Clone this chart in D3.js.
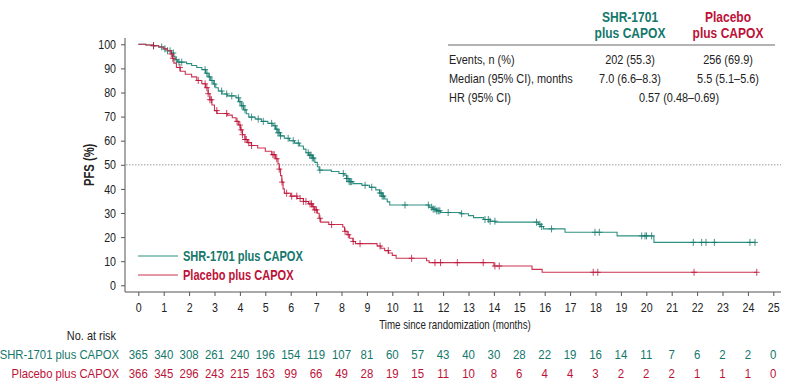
<!DOCTYPE html>
<html>
<head>
<meta charset="utf-8">
<script src="https://cdn.jsdelivr.net/npm/d3@7"></script>
<style>
  body { margin: 0; background: #fff; }
  svg text { font-family: "Liberation Sans", Arial, sans-serif; }
</style>
</head>
<body>
<svg id="chart"></svg>
<script>
// KM step points [months, PFS %]
const shrSteps = [[0,100],[0.3,99.7],[0.6,99.4],[0.8,98.9],[1.0,98.1],[1.15,97.3],[1.3,96.4],[1.4,95.0],[1.45,93.6],[1.55,92.6],[1.9,92.0],[2.1,91.2],[2.3,90.4],[2.5,89.5],[2.65,88.0],[2.75,86.5],[2.85,85.0],[2.95,83.5],[3.05,82.0],[3.15,80.6],[3.3,79.4],[3.5,78.6],[3.85,77.8],[3.95,76.2],[4.05,74.5],[4.15,72.8],[4.25,71.2],[4.35,69.8],[4.6,69.0],[4.85,68.0],[5.1,67.2],[5.3,66.2],[5.4,64.8],[5.5,63.3],[5.6,62.0],[5.75,61.0],[5.95,60.0],[6.15,59.0],[6.35,57.8],[6.5,56.5],[6.6,55.0],[6.7,54.0],[6.85,52.8],[6.95,51.0],[7.05,49.2],[7.12,47.8],[7.6,47.2],[7.9,46.4],[8.1,45.7],[8.2,44.3],[8.3,43.0],[8.45,42.2],[8.8,41.5],[9.1,40.7],[9.35,39.6],[9.5,38.3],[9.6,37.0],[9.7,35.8],[9.8,34.6],[9.9,33.3],[11.45,32.4],[11.6,31.6],[11.75,30.9],[11.9,30.2],[12.7,29.7],[13.0,28.9],[13.2,28.1],[13.6,27.3],[13.85,26.6],[14.05,26.2],[15.75,25.3],[15.85,24.4],[15.95,23.4],[16.8,22.0],[18.85,20.5],[20.3,17.8],[24.3,17.8]];
const placeboSteps = [[0,100],[0.3,99.7],[0.6,99.4],[0.8,98.9],[1.0,98.1],[1.15,97.3],[1.3,96.0],[1.35,94.2],[1.4,92.2],[1.5,90.4],[1.65,88.8],[1.85,87.6],[2.1,86.5],[2.3,85.0],[2.5,83.6],[2.65,82.0],[2.75,79.5],[2.82,77.0],[2.9,74.8],[3.0,72.5],[3.1,71.3],[3.5,70.6],[3.7,69.5],[3.85,68.0],[3.95,66.5],[4.02,64.5],[4.1,62.5],[4.2,60.5],[4.3,59.2],[4.45,58.0],[4.7,57.0],[5.0,55.6],[5.25,54.2],[5.4,52.5],[5.5,50.4],[5.55,48.2],[5.6,45.5],[5.65,42.8],[5.7,40.0],[5.75,38.2],[6.0,37.0],[6.25,36.0],[6.5,34.8],[6.7,33.8],[6.85,32.6],[6.95,31.3],[7.05,29.9],[7.12,27.8],[7.18,26.2],[7.5,25.2],[8.05,24.2],[8.12,22.4],[8.22,21.0],[8.32,19.5],[8.45,18.2],[8.55,17.3],[9.4,16.3],[9.55,15.4],[9.7,14.4],[9.85,13.4],[10.0,12.4],[10.15,11.2],[11.35,10.2],[11.45,9.4],[14.0,8.0],[15.5,6.6],[15.9,5.4],[24.35,5.4]];

// censoring times (months)
const shrCensor = [0.6,0.92,1.05,1.15,1.25,1.38,1.5,1.6,1.71,2.63,2.7,2.8,2.9,3.0,3.28,3.48,3.68,3.94,4.0,4.08,4.13,4.2,4.46,4.72,4.92,5.25,5.38,5.45,5.5,5.55,5.6,5.9,6.1,6.3,6.69,6.75,6.8,6.85,6.9,7.15,8.07,8.2,8.25,8.3,8.35,8.4,8.93,9.19,9.51,9.56,9.6,9.65,10.5,11.42,11.55,11.61,11.68,11.75,11.81,11.87,12.2,12.73,13.65,13.78,13.85,14.04,15.68,15.81,15.88,16.27,17.98,18.15,19.82,19.95,20.01,20.21,21.85,22.18,22.35,22.68,24.08,24.28];
const placeboCensor = [0.6,1.3,1.36,1.64,2.36,2.63,2.7,2.75,2.82,2.88,3.09,3.48,3.89,4.0,4.05,4.1,4.2,4.25,4.35,4.46,5.3,5.35,5.45,5.55,5.66,5.84,6.04,6.24,6.37,6.5,6.6,6.76,6.82,6.89,6.95,7.02,7.15,7.61,8.14,8.27,8.46,8.73,9.52,9.84,10.76,11.68,11.9,12.56,13.58,14.04,14.21,17.91,18.09,21.88,24.35];

const xTicks = d3.range(0, 26);
const yTicks = [0,10,20,30,40,50,60,70,80,90,100];
const riskTimes = d3.range(0, 26);
const shrAtRisk = [365,340,308,261,240,196,154,119,107,81,60,57,43,40,30,28,22,19,16,14,11,7,6,2,2,0];
const placeboAtRisk = [366,345,296,243,215,163,99,66,49,28,19,15,11,10,8,6,4,4,3,2,2,2,1,1,1,0];

const seriesNames = ["SHR-1701 plus CAPOX", "Placebo plus CAPOX"];
const colTeal = "#14786b";
const colTealLine = "#2e9083";
const colRed = "#bd1238";
const colRedLine = "#cc3350";
const NARROW = 0.84;

const svg = d3.select('#chart').attr('width', 800).attr('height', 392);

// condensed text: the original uses an Arial Narrow style face
function ntext(parent, px, py, str, opt = {}) {
    const g = parent.append('g')
        .attr('transform', `translate(${px},${py}) scale(${opt.sx || NARROW},1)`);
    return g.append('text')
        .attr('text-anchor', opt.anchor || 'start')
        .attr('font-size', (opt.size || 13) + 'px')
        .attr('font-weight', opt.bold ? 'bold' : 'normal')
        .attr('fill', opt.fill || '#222')
        .text(str);
}

const x = d3.scaleLinear().domain([0, 25]).range([138.3, 773.3]);
const y = d3.scaleLinear().domain([0, 100]).range([285.3, 44.3]);

// axes
const yAxis = svg.append('g')
    .attr('transform', 'translate(125,0)')
    .call(d3.axisLeft(y).tickValues(yTicks).tickSize(4).tickPadding(5));
yAxis.select('.domain').attr('d', 'M0,38V292');
yAxis.selectAll('.tick text')
    .attr('x', 0)
    .attr('transform', `translate(-9,0) scale(0.82,1)`);
const xAxis = svg.append('g')
    .attr('transform', 'translate(0,292)')
    .call(d3.axisBottom(x).tickValues(xTicks).tickSize(4).tickPadding(7));
xAxis.select('.domain').attr('d', 'M125,0H781');
xAxis.selectAll('.tick text').attr('transform', 'scale(0.82,1)');
svg.selectAll('.tick text').attr('font-size', '13px').attr('fill', '#222')
    .attr('font-family', '"Liberation Sans", Arial, sans-serif');
svg.selectAll('.tick line, .domain').attr('stroke', '#555');

// 50% reference line
svg.append('line')
    .attr('x1', 126).attr('x2', 781)
    .attr('y1', y(50)).attr('y2', y(50))
    .attr('stroke', '#9a9a9a').attr('stroke-dasharray', '1.5,1.5');

svg.append('g')
    .attr('transform', `translate(94,${(y(0) + y(100)) / 2}) rotate(-90) scale(0.8,1)`)
    .append('text')
    .attr('text-anchor', 'middle')
    .attr('font-size', '14px').attr('font-weight', 'bold').attr('fill', '#222')
    .text('PFS (%)');

ntext(svg, 455, 329, 'Time since randomization (months)', { anchor: 'middle', sx: 0.78, size: 12.5 });

// curves
const line = d3.line().x(d => x(d[0])).y(d => y(d[1])).curve(d3.curveStepAfter);

function survAt(steps, t) {
    let v = steps[0][1];
    steps.forEach(s => { if (s[0] <= t) v = s[1]; });
    return v;
}

function drawCurve(steps, censor, lineCol, markCol) {
    svg.append('path')
        .attr('d', line(steps))
        .attr('fill', 'none')
        .attr('stroke', lineCol)
        .attr('stroke-width', 1.1);
    const g = svg.append('g');
    censor.forEach(t => {
        const cx = x(t), cy = y(survAt(steps, t));
        g.append('path')
            .attr('d', `M${cx},${cy - 3.5}V${cy + 3.5}M${cx - 3},${cy}H${cx + 3}`)
            .attr('stroke', markCol)
            .attr('stroke-width', 1)
            .attr('opacity', 0.8);
    });
}
drawCurve(shrSteps, shrCensor, colTealLine, colTeal);
drawCurve(placeboSteps, placeboCensor, colRedLine, colRed);

// legend
const legend = svg.append('g');
[[colTealLine, colTeal], [colRedLine, colRed]].forEach((c, i) => {
    const ly = 256 + i * 19;
    legend.append('line').attr('x1', 138).attr('x2', 178).attr('y1', ly).attr('y2', ly)
        .attr('stroke', c[0]).attr('stroke-width', 1.2);
    ntext(legend, 183, ly + 5, seriesNames[i], { size: 14, bold: true, fill: c[1], sx: 0.79 });
});

// summary table
const tbl = svg.append('g');
const colX = [630, 728];
[['SHR-1701', 'plus CAPOX', colTeal], ['Placebo', 'plus CAPOX', colRed]].forEach((h, i) => {
    ntext(tbl, colX[i], 22, h[0], { anchor: 'middle', bold: true, fill: h[2], size: 14, sx: 0.86 });
    ntext(tbl, colX[i], 38, h[1], { anchor: 'middle', bold: true, fill: h[2], size: 14, sx: 0.86 });
});
tbl.append('line').attr('x1', 448).attr('x2', 775).attr('y1', 45).attr('y2', 45)
    .attr('stroke', '#666').attr('stroke-width', 1);
const tableRows = [
    ['Events, n (%)', '202 (55.3)', '256 (69.9)'],
    ['Median (95% CI), months', '7.0 (6.6\u20138.3)', '5.5 (5.1\u20135.6)'],
];
tableRows.forEach((r, i) => {
    const ty = 64 + i * 19;
    ntext(tbl, 449, ty, r[0]);
    ntext(tbl, colX[0], ty, r[1], { anchor: 'middle' });
    ntext(tbl, colX[1], ty, r[2], { anchor: 'middle' });
});
ntext(tbl, 449, 102, 'HR (95% CI)');
ntext(tbl, 679, 102, '0.57 (0.48\u20130.69)', { anchor: 'middle' });

// number at risk
const risk = svg.append('g');
ntext(risk, 116, 340, 'No. at risk', { anchor: 'end' });
[[shrAtRisk, colTeal], [placeboAtRisk, colRed]].forEach((s, i) => {
    const ry = 359 + i * 19;
    ntext(risk, 119, ry, seriesNames[i], { anchor: 'end', fill: s[1], sx: 0.87 });
    s[0].forEach((d, j) => {
        ntext(risk, x(riskTimes[j]), ry, d, { anchor: 'middle', fill: s[1], sx: 0.88 });
    });
});
</script>
</body>
</html>
